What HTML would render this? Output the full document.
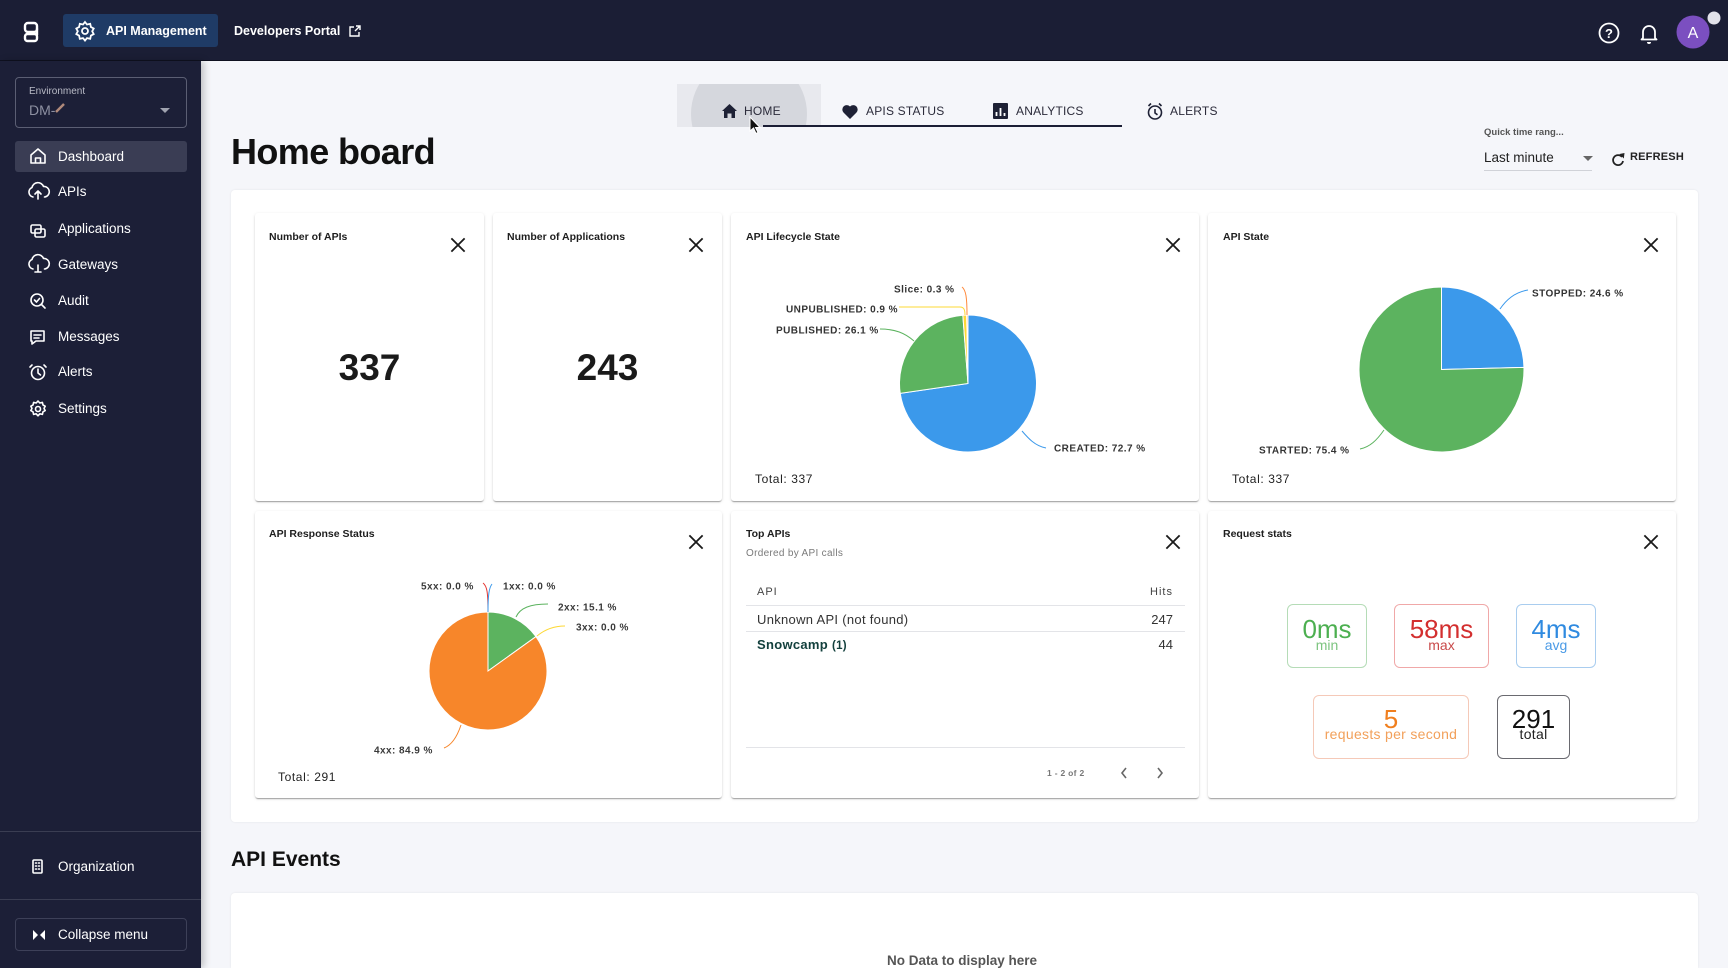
<!DOCTYPE html>
<html style="width:1728px;height:968px;overflow:hidden"><head><meta charset="utf-8">
<style>
*{box-sizing:border-box;margin:0;padding:0}
body{width:1728px;height:968px;overflow:hidden;background:#f5f6fa;font-family:"Liberation Sans",sans-serif;position:relative}
.a{position:absolute}
.t{position:absolute;white-space:nowrap;line-height:1}
.nav{position:absolute;left:58px;color:#fff;font-size:13.5px;line-height:1;white-space:nowrap}
.card{position:absolute;background:#fff;border-radius:3px;box-shadow:0 2px 1px -1px rgba(0,0,0,.2),0 1px 1px 0 rgba(0,0,0,.14),0 1px 3px 0 rgba(0,0,0,.12)}
.ct{position:absolute;font-size:10.5px;font-weight:bold;color:#1e1e1e;line-height:1;white-space:nowrap}
.box{position:absolute;border:1px solid;border-radius:6px;background:#fff}
.box .n{position:absolute;left:0;width:100%;text-align:center;font-size:26px;line-height:1}
.box .l{position:absolute;left:0;width:100%;text-align:center;font-size:14px;line-height:1}
.tab{position:absolute;top:105px;font-size:12px;line-height:1;color:#2b2b3a;white-space:nowrap;letter-spacing:.2px}
</style></head><body>

<!-- Top bar -->
<div class="a" style="left:0;top:0;width:1728px;height:61px;background:#1b1e35;border-bottom:1px solid #0f1120"></div>
<div class="a" style="left:63px;top:14px;width:155px;height:33px;background:#1f3b66;border-radius:3px"></div>
<div class="t" style="left:106px;top:25px;font-size:12.5px;font-weight:bold;color:#fff">API Management</div>
<div class="t" style="left:234px;top:25px;font-size:12.5px;font-weight:bold;color:#fff">Developers Portal</div>

<!-- Sidebar -->
<div class="a" style="left:0;top:61px;width:201px;height:907px;background:#1c1f37;box-shadow:3px 0 7px rgba(0,0,0,.22)"></div>
<div class="a" style="left:15px;top:77px;width:172px;height:51px;border:1.5px solid #5b5e73;border-radius:4px"></div>
<div class="t" style="left:29px;top:87px;font-size:10px;color:#b9bbc6">Environment</div>
<div class="t" style="left:29px;top:103px;font-size:14px;color:#8e91a2">DM-</div>
<div class="a" style="left:15px;top:141px;width:172px;height:31px;background:#3a3d54;border-radius:3px"></div>
<div class="nav" style="top:150px">Dashboard</div>
<div class="nav" style="top:185px">APIs</div>
<div class="nav" style="top:222px">Applications</div>
<div class="nav" style="top:258px">Gateways</div>
<div class="nav" style="top:294px">Audit</div>
<div class="nav" style="top:330px">Messages</div>
<div class="nav" style="top:365px">Alerts</div>
<div class="nav" style="top:402px">Settings</div>
<div class="a" style="left:0;top:831px;width:201px;height:1px;background:#3a3d52"></div>
<div class="nav" style="top:860px">Organization</div>
<div class="a" style="left:0;top:899px;width:201px;height:1px;background:#3a3d52"></div>
<div class="a" style="left:15px;top:918px;width:172px;height:33px;border:1px solid #3d4058;border-radius:4px"></div>
<div class="nav" style="top:928px">Collapse menu</div>

<!-- Tabs -->
<div class="a" style="left:677px;top:84px;width:144px;height:43px;background:#e8e9ee;overflow:hidden">
  <div class="a" style="left:14px;top:-28px;width:116px;height:116px;border-radius:50%;background:#d5d7dd"></div>
</div>
<div class="a" style="left:763px;top:125px;width:359px;height:2px;background:#1b1e35"></div>
<div class="tab" style="left:744px">HOME</div>
<div class="tab" style="left:866px">APIS STATUS</div>
<div class="tab" style="left:1016px">ANALYTICS</div>
<div class="tab" style="left:1170px">ALERTS</div>

<!-- Header -->
<div class="t" style="left:231px;top:134px;font-size:36px;font-weight:bold;color:#111;letter-spacing:-.6px">Home board</div>
<div class="t" style="left:1484px;top:128px;font-size:9.5px;font-weight:bold;color:#555">Quick time rang...</div>
<div class="t" style="left:1484px;top:151px;font-size:13.5px;color:#222">Last minute</div>
<div class="a" style="left:1484px;top:170px;width:108px;height:1px;background:#d0d2d8"></div>
<div class="t" style="left:1630px;top:152px;font-size:11px;font-weight:bold;color:#222;letter-spacing:.2px">REFRESH</div>

<!-- Panel -->
<div class="a" style="left:231px;top:190px;width:1467px;height:632px;background:#fff;border-radius:4px;box-shadow:0 0 2px rgba(0,0,0,.08)"></div>

<!-- Row 1 cards -->
<div class="card" style="left:255px;top:213px;width:229px;height:288px"></div>
<div class="card" style="left:493px;top:213px;width:229px;height:288px"></div>
<div class="card" style="left:731px;top:213px;width:468px;height:288px"></div>
<div class="card" style="left:1208px;top:213px;width:468px;height:288px"></div>
<div class="ct" style="left:269px;top:232px">Number of APIs</div>
<div class="ct" style="left:507px;top:232px">Number of Applications</div>
<div class="ct" style="left:746px;top:232px">API Lifecycle State</div>
<div class="ct" style="left:1223px;top:232px">API State</div>
<div class="t" style="left:255px;width:229px;text-align:center;top:349px;font-size:37px;font-weight:bold;color:#1a1a1a">337</div>
<div class="t" style="left:493px;width:229px;text-align:center;top:349px;font-size:37px;font-weight:bold;color:#1a1a1a">243</div>

<!-- Row 2 cards -->
<div class="card" style="left:255px;top:511px;width:467px;height:287px"></div>
<div class="card" style="left:731px;top:511px;width:468px;height:287px"></div>
<div class="card" style="left:1208px;top:511px;width:468px;height:287px"></div>
<div class="ct" style="left:269px;top:529px">API Response Status</div>
<div class="ct" style="left:746px;top:529px">Top APIs</div>
<div class="t" style="left:746px;top:549px;font-size:10px;color:#7a7a7a;letter-spacing:.3px">Ordered by API calls</div>
<div class="ct" style="left:1223px;top:529px">Request stats</div>

<!-- Top APIs table -->
<div class="t" style="left:757px;top:587px;font-size:11px;color:#444;letter-spacing:1px">API</div>
<div class="t" style="left:1100px;width:73px;text-align:right;top:587px;font-size:11px;color:#444;letter-spacing:1px">Hits</div>
<div class="a" style="left:746px;top:605px;width:439px;height:1px;background:#e3e4e8"></div>
<div class="t" style="left:757px;top:613px;font-size:13px;color:#333;letter-spacing:.3px">Unknown API (not found)</div>
<div class="t" style="left:1100px;width:73px;text-align:right;top:613px;font-size:13px;color:#333">247</div>
<div class="a" style="left:746px;top:631px;width:439px;height:1px;background:#e3e4e8"></div>
<div class="t" style="left:757px;top:638px;font-size:13px;font-weight:bold;color:#13403d;letter-spacing:.3px">Snowcamp <span style="font-size:11.5px">(1)</span></div>
<div class="t" style="left:1100px;width:73px;text-align:right;top:638px;font-size:13px;color:#333">44</div>
<div class="a" style="left:746px;top:747px;width:439px;height:1px;background:#e3e4e8"></div>
<div class="t" style="left:1047px;top:769px;font-size:8.5px;font-weight:bold;color:#777;letter-spacing:.3px">1 - 2 of 2</div>

<!-- Request stats -->
<div class="box" style="left:1287px;top:604px;width:80px;height:64px;border-color:#b5dcb7">
  <div class="n" style="top:11px;color:#4caf50">0ms</div><div class="l" style="top:33px;color:#7cc47f">min</div></div>
<div class="box" style="left:1394px;top:604px;width:95px;height:64px;border-color:#f0a8a8">
  <div class="n" style="top:11px;color:#d32f2f">58ms</div><div class="l" style="top:33px;color:#c94a4a">max</div></div>
<div class="box" style="left:1516px;top:604px;width:80px;height:64px;border-color:#a9cdef">
  <div class="n" style="top:11px;color:#2f8ae0">4ms</div><div class="l" style="top:33px;color:#4a9ae6">avg</div></div>
<div class="box" style="left:1313px;top:695px;width:156px;height:64px;border-color:#f5c9b8">
  <div class="n" style="top:10px;color:#f07f1e">5</div><div class="l" style="top:31px;color:#f2a05a;letter-spacing:.3px">requests per second</div></div>
<div class="box" style="left:1497px;top:695px;width:73px;height:64px;border-color:#6a6a70">
  <div class="n" style="top:10px;color:#111">291</div><div class="l" style="top:31px;color:#222;letter-spacing:.3px">total</div></div>

<!-- API Events -->
<div class="t" style="left:231px;top:849px;font-size:21px;font-weight:bold;color:#111">API Events</div>
<div class="a" style="left:231px;top:893px;width:1467px;height:75px;background:#fff;border-radius:4px 4px 0 0;box-shadow:0 0 2px rgba(0,0,0,.08)"></div>
<div class="t" style="left:887px;top:954px;font-size:13.5px;font-weight:bold;color:#555">No Data to display here</div>

<!-- SVG overlay: icons and charts -->
<svg class="a" style="left:0;top:0" width="1728" height="968" viewBox="0 0 1728 968" font-family="Liberation Sans, sans-serif">
  <!-- logo -->
  <g fill="none" stroke="#fff" stroke-width="2.4" stroke-linecap="round">
    <rect x="25" y="23" width="12" height="9" rx="3"/>
    <path d="M37 29 V35"/>
    <rect x="25" y="34" width="12" height="7" rx="2.5"/>
  </g>
  <!-- gear in API mgmt -->
  <g fill="none" stroke="#fff" stroke-width="1.8">
    <circle cx="85" cy="31" r="3"/>
    <path d="M85 22 l2 2.5 3.2-.7 .7 3.2 2.8 1.5-1.5 2.8 1.5 2.8-2.8 1.5-.7 3.2-3.2-.7-2 2.5-2-2.5-3.2.7-.7-3.2-2.8-1.5 1.5-2.8-1.5-2.8 2.8-1.5 .7-3.2 3.2.7z"/>
  </g>
  <!-- external link -->
  <g fill="none" stroke="#fff" stroke-width="1.4">
    <path d="M354 27 h-4 v9 h9 v-4"/><path d="M356 26 h4 v4 M360 26 l-5 5"/>
  </g>
  <!-- help / bell / avatar -->
  <circle cx="1609" cy="33" r="9.5" fill="none" stroke="#fff" stroke-width="1.8"/>
  <text x="1609" y="38" text-anchor="middle" font-size="13" font-weight="bold" fill="#fff">?</text>
  <path d="M1643 38 v-6 a6 6 0 0 1 12 0 v6 l1.5 1.5 h-15 z" fill="none" stroke="#fff" stroke-width="1.8" stroke-linejoin="round"/>
  <path d="M1647 42 a2 2 0 0 0 4 0" fill="#fff"/>
  <circle cx="1693" cy="32" r="16.5" fill="#7b4fc0"/>
  <text x="1693" y="38" text-anchor="middle" font-size="16" fill="#fff">A</text>
  <circle cx="1714" cy="18" r="6.5" fill="#e2e2ea"/>

  <!-- env pencil & arrow -->
  <path d="M56 112 l8 -8" stroke="#b08a7a" stroke-width="2.5"/>
  <polygon points="160,108 170,108 165,113" fill="#a0a3b0"/>

  <!-- sidebar icons -->
  <g fill="none" stroke="#fff" stroke-width="1.6" stroke-linejoin="round" stroke-linecap="round">
    <path d="M31 163 v-8 l7-6 7 6 v8 z M35.5 163 v-5 h5 v5"/>
    <path d="M33 197 a5 5 0 0 1 -1-9.5 a6 6 0 0 1 11.5-1 a4.5 4.5 0 0 1 1 10.5 M38 199 v-8 m-3 3 l3-3 3 3"/>
    <rect x="31" y="225" width="10" height="8" rx="1.5"/><rect x="35" y="229" width="10" height="8" rx="1.5"/>
    <path d="M33 269 a5 5 0 0 1 -1-9.5 a6 6 0 0 1 11.5-1 a4.5 4.5 0 0 1 1 10.5 M38 265 v7 m-3 0 h6"/>
    <circle cx="37" cy="300" r="6"/><path d="M41.5 304.5 l3.5 3.5 M34.5 300 l2 2 3-3.5"/>
    <path d="M31 331 h13 v10 h-8 l-4 3 v-3 h-1 z M34 335 h7 M34 338 h5"/>
    <circle cx="38" cy="373" r="6.5"/><path d="M38 369 v4 l2.5 2 M32 365 l-2 2 M44 365 l2 2"/>
    <circle cx="38" cy="409" r="2.5"/><path d="M38 401 l1.8 2 2.6-.6 .6 2.6 2.2 1.2-1.2 2.2 1.2 2.2-2.2 1.2-.6 2.6-2.6-.6-1.8 2-1.8-2-2.6.6-.6-2.6-2.2-1.2 1.2-2.2-1.2-2.2 2.2-1.2 .6-2.6 2.6.6z"/>
    <rect x="33" y="860" width="9" height="13" rx="1"/><path d="M35.5 863 h1 M38.5 863 h1 M35.5 866 h1 M38.5 866 h1 M35.5 869 h1 M38.5 869 h1"/>
  </g>
  <polygon points="33,930 33,940 38,935" fill="#fff"/><polygon points="45,930 45,940 40,935" fill="#fff"/>

  <!-- tab icons -->
  <path d="M729.5 104 L737 111 H735 V118 H731.5 V113.5 H727.5 V118 H724 V111 H722 Z" fill="#1e2135"/>
  <path d="M850 119 L843.5 112.5 A4 4 0 0 1 850 106.5 A4 4 0 0 1 856.5 112.5 Z" fill="#1e2135"/>
  <rect x="993" y="103" width="15" height="16" rx="1" fill="#1e2135"/>
  <path d="M996.5 116 v-4 M1000.5 116 v-8 M1004.5 116 v-3" stroke="#fff" stroke-width="1.8"/>
  <g fill="none" stroke="#1e2135" stroke-width="1.6">
    <circle cx="1155" cy="112.5" r="6.5"/><path d="M1155 109 v4 l2.5 1.8 M1148.5 106 l2.5-2.5 M1161.5 106 l-2.5-2.5"/>
  </g>
  <!-- cursor -->
  <polygon points="750,117 750,131 753.5,128 756,133.5 758,132.5 755.5,127.5 760,127.5" fill="#111" stroke="#fff" stroke-width="1"/>

  <!-- refresh + dropdown -->
  <polygon points="1583,156 1593,156 1588,161" fill="#666"/>
  <path d="M1622 157 a5 5 0 1 0 1 4" fill="none" stroke="#222" stroke-width="1.8"/>
  <polygon points="1619.5,154 1624.5,153 1623.8,158.5" fill="#222"/>

  <!-- close X icons -->
  <g stroke="#1a1a1a" stroke-width="1.8" stroke-linecap="square">
    <path d="M452 239 l12 12 M464 239 l-12 12"/>
    <path d="M690 239 l12 12 M702 239 l-12 12"/>
    <path d="M1167 239 l12 12 M1179 239 l-12 12"/>
    <path d="M1645 239 l12 12 M1657 239 l-12 12"/>
    <path d="M690 536 l12 12 M702 536 l-12 12"/>
    <path d="M1167 536 l12 12 M1179 536 l-12 12"/>
    <path d="M1645 536 l12 12 M1657 536 l-12 12"/>
  </g>
  <!-- pagination chevrons -->
  <g fill="none" stroke="#666" stroke-width="1.6">
    <path d="M1126 768 l-4 5 4 5"/><path d="M1158 768 l4 5 -4 5"/>
  </g>

  <!-- Lifecycle pie -->
  <g stroke="#fff" stroke-width="1">
    <path d="M968,383.5 L968,315 A68.5,68.5 0 1 1 900.21,393.36 Z" fill="#3b99eb"/>
    <path d="M968,383.5 L900.21,393.36 A68.5,68.5 0 0 1 962.84,315.19 Z" fill="#5cb35f"/>
    <path d="M968,383.5 L962.84,315.19 A68.5,68.5 0 0 1 966.71,315.01 Z" fill="#fdd835"/>
    <path d="M968,383.5 L966.71,315.01 A68.5,68.5 0 0 1 968,315 Z" fill="#ff8a3d"/>
  </g>
  <g fill="none" stroke-width="1">
    <path d="M1046,448 C1035,446 1028,438 1022,431" stroke="#3b99eb"/>
    <path d="M880,329 C895,329 905,333 914,341" stroke="#5cb35f"/>
    <path d="M899,307 L960,307 C964,307 965,310 965,315" stroke="#fdd835"/>
    <path d="M962,287 C966,290 967,298 967,315" stroke="#ff8a3d"/>
  </g>
  <g font-size="10" font-weight="bold" fill="#333" letter-spacing=".45">
    <text x="894" y="292.5">Slice: 0.3 %</text>
    <text x="786" y="312.5">UNPUBLISHED: 0.9 %</text>
    <text x="776" y="333.5">PUBLISHED: 26.1 %</text>
    <text x="1054" y="451.5">CREATED: 72.7 %</text>
  </g>
  <text x="755" y="483" font-size="12" fill="#222" letter-spacing=".6">Total: 337</text>

  <!-- API State pie -->
  <g stroke="#fff" stroke-width="1">
    <path d="M1441.5,369.5 L1441.5,287 A82.5,82.5 0 0 1 1523.97,367.43 Z" fill="#3b99eb"/>
    <path d="M1441.5,369.5 L1523.97,367.43 A82.5,82.5 0 1 1 1441.5,287 Z" fill="#5cb35f"/>
  </g>
  <g fill="none" stroke-width="1">
    <path d="M1528,290 C1515,292 1506,300 1500,309" stroke="#3b99eb"/>
    <path d="M1360,449 C1370,447 1377,440 1384,430" stroke="#5cb35f"/>
  </g>
  <g font-size="10" font-weight="bold" fill="#333" letter-spacing=".45">
    <text x="1532" y="296.5">STOPPED: 24.6 %</text>
    <text x="1259" y="453.5">STARTED: 75.4 %</text>
  </g>
  <text x="1232" y="483" font-size="12" fill="#222" letter-spacing=".6">Total: 337</text>

  <!-- Response status pie -->
  <g stroke="#fff" stroke-width="1">
    <path d="M488,671 L488,612 A59,59 0 0 1 535.95,636.62 Z" fill="#5cb35f"/>
    <path d="M488,671 L535.95,636.62 A59,59 0 1 1 488,612 Z" fill="#f7862a"/>
  </g>
  <g fill="none" stroke-width="1">
    <path d="M483,583 C487,586 488,592 488,612" stroke="#e53935"/>
    <path d="M492,584 C489,588 488,595 488,612" stroke="#3b99eb"/>
    <path d="M548,604 C530,604 520,608 516,617" stroke="#5cb35f"/>
    <path d="M565,626 C552,626 543,631 537,636" stroke="#fdd835"/>
    <path d="M444,748 C452,745 457,737 461,725" stroke="#f7862a"/>
  </g>
  <g font-size="10" font-weight="bold" fill="#3a3a3a" letter-spacing=".45">
    <text x="421" y="589.5">5xx: 0.0 %</text>
    <text x="503" y="589.5">1xx: 0.0 %</text>
    <text x="558" y="610.5">2xx: 15.1 %</text>
    <text x="576" y="630.5">3xx: 0.0 %</text>
    <text x="374" y="753.5">4xx: 84.9 %</text>
  </g>
  <text x="278" y="781" font-size="12" fill="#222" letter-spacing=".6">Total: 291</text>
</svg>
</body></html>
